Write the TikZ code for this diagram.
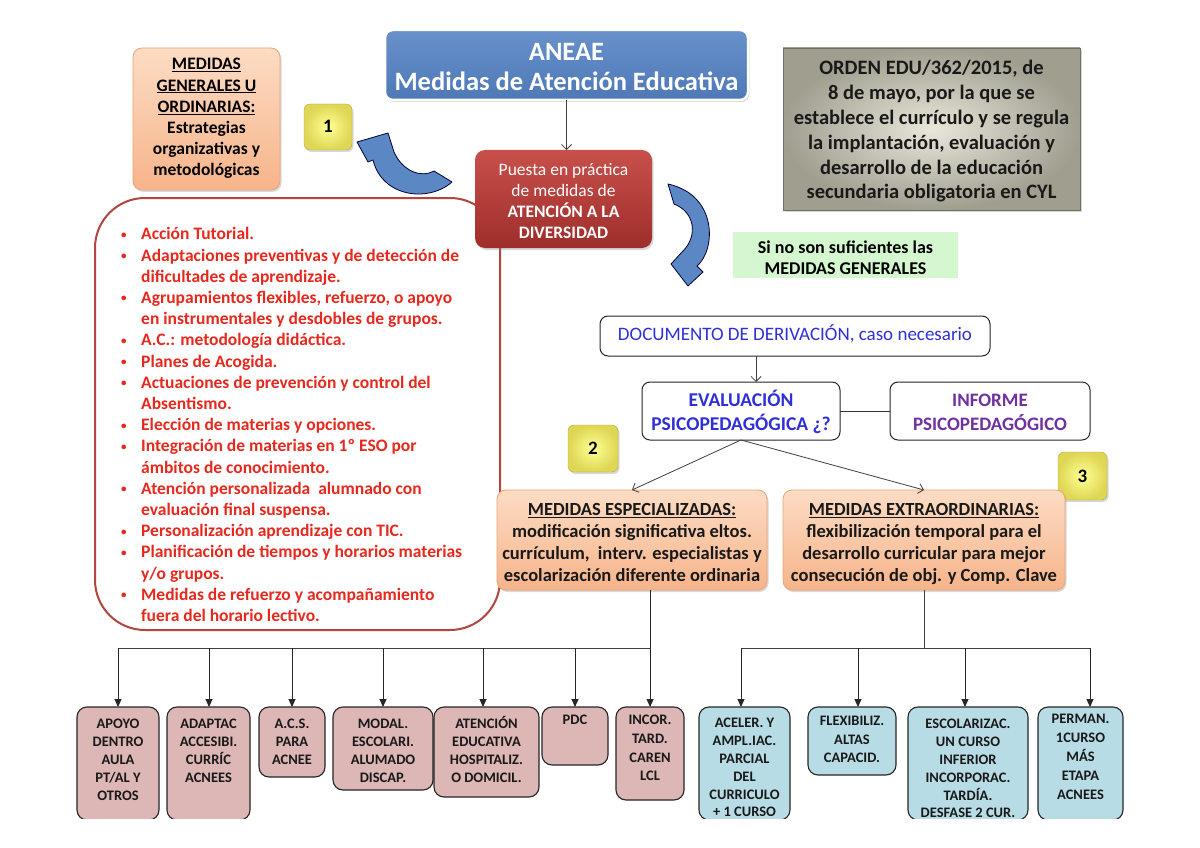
\documentclass[tikz,border=0pt]{standalone}
\usepackage{fontspec}
\setmainfont{Carlito}
\usetikzlibrary{shadows,arrows.meta,calc}
\definecolor{orgtop}{HTML}{FCDCC4}
\definecolor{orgbot}{HTML}{F6B48A}
\definecolor{orgdraw}{HTML}{EBA475}
\definecolor{titletop}{HTML}{6891CB}
\definecolor{titlebot}{HTML}{4E79B6}
\definecolor{redtop}{HTML}{C8504B}
\definecolor{redbot}{HTML}{9E2E2B}
\definecolor{yelin}{HTML}{FFFF94}
\definecolor{yelout}{HTML}{DED654}
\definecolor{grayin}{HTML}{E9E7DA}
\definecolor{grayout}{HTML}{A09E8F}
\definecolor{greenbg}{HTML}{D5F7CF}
\definecolor{listred}{HTML}{E6281D}
\definecolor{listdraw}{HTML}{B2463F}
\definecolor{docblue}{HTML}{2F2FD8}
\definecolor{purp}{HTML}{7030A0}
\definecolor{pinkc}{HTML}{DDB6B6}
\definecolor{bluec}{HTML}{B8DCE6}
\definecolor{arrblue}{HTML}{5B87C5}
\newcommand{\mystrut}{\rule{0pt}{1em}}
\newcommand{\itm}[1]{\makebox[20pt][l]{\raisebox{1.5pt}{\fontsize{11}{11}\selectfont\textbullet}}#1}
\newcommand{\cnt}[1]{\hspace*{20pt}#1}
\begin{document}
\begin{tikzpicture}[x=1pt,y=-1pt,
  box/.style={inner sep=0pt,outer sep=0pt},
  shad/.style={drop shadow={shadow xshift=1.5pt,shadow yshift=-2pt,opacity=0.3}},
  orgbox/.style={box,shad,rounded corners=9pt,draw=orgdraw,line width=0.8pt,top color=orgtop,bottom color=orgbot},
  yelbox/.style={box,shad,rounded corners=6pt,draw=yelout!80!black,line width=0.4pt,inner color=yelin,outer color=yelout},
  wbox/.style={box,rounded corners=8pt,draw=black!85,line width=1pt,fill=white},
  pinkbox/.style={box,rounded corners=10pt,draw=black!85,line width=1.1pt,fill=pinkc},
  bluebox/.style={box,rounded corners=10pt,draw=black!85,line width=1.1pt,fill=bluec},
  txt/.style={inner sep=0pt,anchor=north,align=center},
  btxt/.style={txt,font=\fontsize{14.5}{17.8}\selectfont\bfseries,text=black!90},
  numtxt/.style={inner sep=0pt,anchor=base,font=\fontsize{19}{20}\selectfont\bfseries},
  thinarr/.style={draw=black!75,line width=0.8pt,-{Straight Barb[length=5pt,width=10pt]}},
  bigarr/.style={draw=black!85,line width=1pt,-{Triangle[length=8pt,width=7pt]}},
  busline/.style={draw=black!75,line width=1pt},
  curvearr/.style={fill=arrblue,draw=black!80!blue,line width=0.8pt,line join=round}]
\useasboundingbox (0,0) rectangle (1200,848);
\fill[white] (0,0) rectangle (1200,848);

% ---- big list (drawn first: the red box covers its corner)
\node[box,rounded corners=50pt,draw=listdraw,line width=2pt,fill=white,minimum width=405pt,minimum height=432pt] (list) at (297.5,414) {};
\node[inner sep=0pt,anchor=north west,align=left,text=listred,font=\fontsize{17.5}{21.2}\selectfont\bfseries] (listT) at (121,222.1)
 {\mystrut\itm{Acción Tutorial.}\\
  \itm{Adaptaciones preventivas y de detección de}\\
  \cnt{dificultades de aprendizaje.}\\
  \itm{Agrupamientos flexibles, refuerzo, o apoyo}\\
  \cnt{en instrumentales y desdobles de grupos.}\\
  \itm{A.C.: metodología didáctica.}\\
  \itm{Planes de Acogida.}\\
  \itm{Actuaciones de prevención y control del}\\
  \cnt{Absentismo.}\\
  \itm{Elección de materias y opciones.}\\
  \itm{Integración de materias en 1º ESO por}\\
  \cnt{ámbitos de conocimiento.}\\
  \itm{Atención personalizada\ \ alumnado con}\\
  \cnt{evaluación final suspensa.}\\
  \itm{Personalización aprendizaje con TIC.}\\
  \itm{Planificación de tiempos y horarios materias}\\
  \cnt{y/o grupos.}\\
  \itm{Medidas de refuerzo y acompañamiento}\\
  \cnt{fuera del horario lectivo.}};

% ---- top left
\node[orgbox,minimum width=147pt,minimum height=142pt] (gen) at (206.5,119) {};
\node[txt,font=\fontsize{17.5}{21.2}\selectfont\bfseries] (genT) at (206.5,52.2)
 {\mystrut\underline{MEDIDAS}\\\underline{GENERALES U}\\\underline{ORDINARIAS:}\\Estrategias\\organizativas y\\metodológicas};

% ---- title
\node[box,shad,rounded corners=8pt,draw=white,line width=2.5pt,top color=titletop,bottom color=titlebot,minimum width=363pt,minimum height=70pt] (title) at (566.5,65) {};
\node[txt,text=white,font=\fontsize{26.5}{30}\selectfont\bfseries] (titleT) at (566.5,34.2)
 {\mystrut ANEAE\\Medidas de Atención Educativa};

% ---- ORDEN
\node[box,shad,draw=grayout!70!black,line width=0.6pt,inner color=grayin,outer color=grayout,minimum width=297pt,minimum height=162pt] (orden) at (931.5,129) {};
\node[txt,font=\fontsize{20.5}{24.8}\selectfont\bfseries,text=black!90] (ordenT) at (931.5,54.1)
 {\mystrut ORDEN EDU/362/2015, de\\8 de mayo, por la que se\\establece el currículo y se regula\\la implantación, evaluación y\\desarrollo de la educación\\secundaria obligatoria en CYL};

% ---- puesta en practica
\node[box,shad,rounded corners=10pt,top color=redtop,bottom color=redbot,minimum width=177pt,minimum height=98pt] (puesta) at (563.5,199) {};
\node[txt,text=white,font=\fontsize{17.5}{21}\selectfont] (puestaT) at (563.5,158.1)
 {\mystrut Puesta en práctica\\de medidas de\\\textbf{ATENCIÓN A LA}\\\textbf{DIVERSIDAD}};
\draw[thinarr] (title.south) -- (title.south |- puesta.north);

% ---- number boxes
\node[yelbox,minimum width=48pt,minimum height=46pt] (y1) at (328,127) {};
\node[numtxt] (y1T) at (328,133) {1};
\node[yelbox,minimum width=50pt,minimum height=47pt] (y2) at (593,448.5) {};
\node[numtxt] (y2T) at (593,454.5) {2};
\node[yelbox,minimum width=49pt,minimum height=48pt] (y3) at (1082.5,476) {};
\node[numtxt] (y3T) at (1082.5,482) {3};

% ---- curved arrows
\draw[curvearr] (357,142) -- (388,133) -- (394,152)
  .. controls (403,172) and (422,178) .. (434,171) -- (452,182)
  .. controls (428,203) and (382,197) .. (373,160) -- (368,162) -- cycle;
\draw[curvearr] (668,184) .. controls (718,195) and (716,250) .. (697,266)
  -- (703,272) -- (688,286) -- (671,264) -- (683,251)
  .. controls (698,236) and (695,212) .. (674,204) -- cycle;

% ---- green note
\node[box,fill=greenbg,minimum width=225pt,minimum height=46pt] (green) at (845.5,255) {};
\node[txt,font=\fontsize{18}{21}\selectfont\bfseries] (greenT) at (845.5,234.8)
 {\mystrut Si no son suficientes las\\MEDIDAS GENERALES};

% ---- documento / evaluacion / informe
\node[wbox,minimum width=390pt,minimum height=40pt] (doc) at (795,336) {};
\node[inner sep=0pt,anchor=base,text=docblue,font=\fontsize{19}{22}\selectfont] (docT) at (795,340) {DOCUMENTO DE DERIVACIÓN, caso necesario};
\node[wbox,minimum width=198pt,minimum height=58pt] (eval) at (741,411) {};
\node[txt,text=docblue,font=\fontsize{19.5}{24}\selectfont\bfseries] (evalT) at (741,386.8) {\mystrut EVALUACIÓN\\PSICOPEDAGÓGICA ¿?};
\node[wbox,minimum width=200pt,minimum height=58pt] (inf) at (990,411) {};
\node[txt,text=purp,font=\fontsize{19}{24}\selectfont\bfseries] (infT) at (990,387.1) {\mystrut INFORME\\PSICOPEDAGÓGICO};
\coordinate (docdrop) at ($(doc.south west)!0.4!(doc.south east)$);
\draw[thinarr] (docdrop) -- (docdrop |- eval.north);
\draw[draw=black!80,line width=1pt] (eval.east) -- (inf.west);

% ---- specialised / extraordinary
\node[orgbox,minimum width=270pt,minimum height=100pt] (esp) at (632,540) {};
\node[txt,font=\fontsize{18.5}{22}\selectfont\bfseries,text=black!90] (espT) at (632,496.5)
 {\mystrut\underline{MEDIDAS ESPECIALIZADAS:}\\modificación significativa eltos.\\currículum,\ \ interv. especialistas y\\escolarización diferente ordinaria};
\node[orgbox,minimum width=282pt,minimum height=100pt] (extra) at (924,540) {};
\node[txt,font=\fontsize{18.5}{22}\selectfont\bfseries,text=black!90] (extraT) at (924,496.5)
 {\mystrut\underline{MEDIDAS EXTRAORDINARIAS:}\\flexibilización temporal para el\\desarrollo curricular para mejor\\consecución de obj. y Comp. Clave};
\draw[thinarr] (eval.south) -- (esp.north);
\draw[thinarr] (eval.south) -- (extra.north);

% ---- bottom boxes
\begin{scope}
\clip (0,0) rectangle (1200,818);
\node[pinkbox,minimum width=82pt,minimum height=113pt] (apoyo) at (118,763.5) {};
\node[btxt] (apoyoT) at (118,714.2) {\mystrut APOYO\\DENTRO\\AULA\\PT/AL Y\\OTROS};
\node[pinkbox,minimum width=83pt,minimum height=113pt] (adap) at (208.5,763.5) {};
\node[btxt] (adapT) at (208.5,714.2) {\mystrut ADAPTAC\\ACCESIBI.\\CURRÍC\\ACNEES};
\node[pinkbox,minimum width=66pt,minimum height=70pt] (acs) at (292,742) {};
\node[btxt] (acsT) at (292,714.2) {\mystrut A.C.S.\\PARA\\ACNEE};
\node[pinkbox,minimum width=100pt,minimum height=83pt] (modal) at (383,748.5) {};
\node[btxt] (modalT) at (383,714.2) {\mystrut MODAL.\\ESCOLARI.\\ALUMADO\\DISCAP.};
\node[pinkbox,minimum width=105pt,minimum height=90pt] (aten) at (486.5,752) {};
\node[btxt] (atenT) at (486.5,714.2) {\mystrut ATENCIÓN\\EDUCATIVA\\HOSPITALIZ.\\O DOMICIL.};
\node[pinkbox,minimum width=66pt,minimum height=58pt] (pdc) at (575,736) {};
\node[btxt] (pdcT) at (575,710.2) {\mystrut PDC};
\node[pinkbox,minimum width=68pt,minimum height=93pt] (incor) at (650,753.5) {};
\node[btxt,font=\fontsize{14.5}{18.6}\selectfont\bfseries] (incorT) at (650,710.2) {\mystrut INCOR.\\TARD.\\CAREN\\LCL};
\node[bluebox,minimum width=91pt,minimum height=113pt] (acel) at (744.5,763.5) {};
\node[btxt] (acelT) at (744.5,713.2) {\mystrut ACELER. Y\\AMPL.IAC.\\PARCIAL\\DEL\\CURRICULO\\+ 1 CURSO};
\node[bluebox,minimum width=88pt,minimum height=68pt] (flex) at (852,741) {};
\node[btxt,font=\fontsize{14.5}{18.5}\selectfont\bfseries] (flexT) at (852,711.2) {\mystrut FLEXIBILIZ.\\ALTAS\\CAPACID.};
\node[bluebox,minimum width=120pt,minimum height=113pt] (esco) at (968,763.5) {};
\node[btxt] (escoT) at (968,714.2) {\mystrut ESCOLARIZAC.\\UN CURSO\\INFERIOR\\INCORPORAC.\\TARDÍA.\\DESFASE 2 CUR.};
\node[bluebox,minimum width=85pt,minimum height=113pt] (perm) at (1080.5,763.5) {};
\node[btxt,font=\fontsize{14.5}{19}\selectfont\bfseries] (permT) at (1080.5,709.2) {\mystrut PERMAN.\\1CURSO\\MÁS\\ETAPA\\ACNEES};
\end{scope}

% ---- bus connectors
\coordinate (espdrop) at ($(esp.south west)!0.567!(esp.south east)$);
\coordinate (bL) at (118,648);
\coordinate (bR) at (espdrop |- bL);
\draw[busline] (bL) -- (bR);
\draw[bigarr] (espdrop) -- (espdrop |- incor.north);
\coordinate (b2) at (209,648);
\coordinate (b3) at (292,648);
\coordinate (b4) at (383,648);
\coordinate (b5) at (483,648);
\coordinate (b6) at (575,648);
\draw[bigarr] (bL) -- (bL |- apoyo.north);
\draw[bigarr] (b2) -- (b2 |- adap.north);
\draw[bigarr] (b3) -- (b3 |- acs.north);
\draw[bigarr] (b4) -- (b4 |- modal.north);
\draw[bigarr] (b5) -- (b5 |- aten.north);
\draw[bigarr] (b6) -- (b6 |- pdc.north);

\coordinate (xm) at (extra.south |- bL);
\coordinate (r1) at (741,648);
\coordinate (r2) at (858,648);
\coordinate (r3) at (965,648);
\coordinate (r4) at (1090,648);
\draw[busline] (extra.south) -- (xm);
\draw[busline] (r1) -- (r4);
\draw[bigarr] (r1) -- (r1 |- acel.north);
\draw[bigarr] (r2) -- (r2 |- flex.north);
\draw[bigarr] (r3) -- (r3 |- esco.north);
\draw[bigarr] (r4) -- (r4 |- perm.north);
\end{tikzpicture}
\end{document}
